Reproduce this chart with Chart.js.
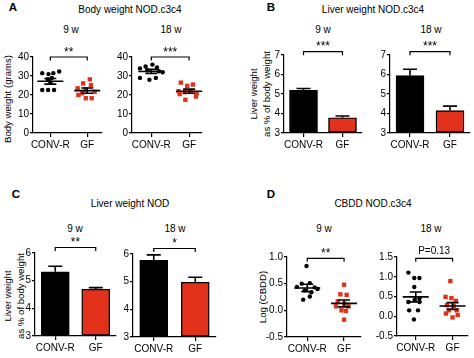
<!DOCTYPE html>
<html>
<head>
<meta charset="utf-8">
<script src="https://cdn.jsdelivr.net/npm/chart.js@4.4.0/dist/chart.umd.min.js"></script>
<style>
  body { margin: 0; width: 474px; height: 358px; background: #fff; position: relative; overflow: hidden;
         font-family: "Liberation Sans", Arial, sans-serif; color: #000; }
  .t { position: absolute; transform: translate(-50%, -50%); font-size: 10px; white-space: nowrap; line-height: 1.2; }
  .L { font-weight: bold; font-size: 11.5px; }
  .r { transform: translate(-50%, -50%) rotate(-90deg); text-align: center; font-size: 9.6px; line-height: 13px; }
  canvas { position: absolute; }
</style>
</head>
<body>
<div class="t L" style="left:13px;top:8px">A</div>
<div class="t" style="left:130px;top:10px">Body weight NOD.c3c4</div>
<div class="t" style="left:71px;top:30px">9 w</div>
<div class="t" style="left:171px;top:30px">18 w</div>
<div class="t r" style="left:7px;top:99px">Body weight (grams)</div>

<div class="t L" style="left:271px;top:8px">B</div>
<div class="t" style="left:373px;top:10px">Liver weight NOD.c3c4</div>
<div class="t" style="left:323px;top:30px">9 w</div>
<div class="t" style="left:431px;top:30px">18 w</div>
<div class="t r" style="left:260px;top:94px">Liver weight<br>as % of body weight</div>

<div class="t L" style="left:16px;top:195px">C</div>
<div class="t" style="left:130px;top:204px">Liver weight NOD</div>
<div class="t" style="left:75px;top:229px">9 w</div>
<div class="t" style="left:175px;top:229px">18 w</div>
<div class="t r" style="left:14px;top:296px">Liver weight<br>as % of body weight</div>

<div class="t L" style="left:271px;top:195px">D</div>
<div class="t" style="left:373px;top:204px">CBDD NOD.c3c4</div>
<div class="t" style="left:324px;top:229px">9 w</div>
<div class="t" style="left:431px;top:229px">18 w</div>
<div class="t r" style="left:262px;top:297px">Log (CBDD)</div>

<script>
// groups on every x axis
const groups = ['CONV-R', 'GF'];

// A: body weight (grams) (x = jitter in group units)
const bwConv9X = [-0.22, -0.05, 0.08, 0.24, 0.04, -0.07, 0.00, -0.22, -0.06, 0.10];
const bwConv9 =  [31.5, 31.0, 31.5, 32.4, 29.0, 28.3, 26.6, 22.6, 22.6, 22.6];
const bwGf9X = [1.07, 0.89, 1.10, 0.74, 0.96, 1.20, 0.76, 0.86, 0.96, 1.12];
const bwGf9 =  [28.2, 26.1, 25.2, 23.5, 23.0, 21.7, 20.0, 20.9, 18.3, 18.3];
const bwConv18X = [-0.30, -0.15, 0.03, 0.15, -0.10, 0.20, 0.30, -0.30, -0.05, 0.12];
const bwConv18 =  [34.0, 35.0, 36.0, 34.5, 33.0, 32.5, 32.0, 29.0, 28.0, 29.0];
const bwGf18X = [0.78, 0.95, 1.10, 0.72, 0.88, 1.05, 1.20, 0.75, 1.18, 0.90];
const bwGf18 =  [26.5, 24.8, 25.5, 22.0, 21.5, 22.0, 21.0, 20.5, 19.2, 17.5];
const bwMean9 = [27.2, 22.3], bwSem9 = [1.5, 1.4];
const bwMean18 = [32.4, 22.0], bwSem18 = [1.1, 1.1];

// B: liver weight NOD.c3c4 (% of body weight)
const lwc3Mean9 = [5.19, 3.78], lwc3Sem9 = [0.09, 0.09];
const lwc3Mean18 = [5.95, 4.15], lwc3Sem18 = [0.32, 0.23];

// C: liver weight NOD (% of body weight)
const lwMean9 = [5.32, 4.69], lwSem9 = [0.20, 0.06];
const lwMean18 = [5.77, 4.98], lwSem18 = [0.20, 0.18];

// D: log(CBDD)
const cbConv9X = [-0.02, -0.15, 0.07, -0.28, 0.20, -0.07, 0.11, -0.11, 0.07, 0.28];
const cbConv9 =  [0.83, 0.50, 0.51, 0.44, 0.43, 0.375, 0.34, 0.20, 0.26, 0.40];
const cbGf9X = [1.00, 0.90, 1.07, 0.83, 1.01, 0.78, 1.12, 0.93, 1.05, 1.00];
const cbGf9 =  [0.48, 0.30, 0.29, 0.17, 0.125, 0.075, 0.075, 0.00, -0.01, -0.175];
const cbConv18X = [-0.20, -0.04, 0.10, -0.04, 0.10, -0.20, -0.03, 0.10, -0.18, 0.06, -0.05];
const cbConv18 =  [1.105, 0.97, 0.97, 0.74, 0.45, 0.36, 0.41, 0.36, 0.15, 0.15, -0.08];
const cbGf18X = [0.94, 0.81, 0.97, 1.09, 0.85, 1.03, 0.90, 1.11, 0.82, 1.00, 1.14];
const cbGf18 =  [0.89, 0.49, 0.46, 0.39, 0.28, 0.26, 0.15, 0.15, 0.07, -0.03, 0.03];
const cbMean9 = [0.42, 0.13], cbSem9 = [0.07, 0.065];
const cbMean18 = [0.49, 0.26], cbSem18 = [0.125, 0.085];

// significance labels
const sigA = ['**', '***'], sigB = ['***', '***'], sigC = ['**', '*'], sigD = ['**', 'P=0.13'];

const FONT = '"Liberation Sans", Arial, sans-serif';
Chart.defaults.font.family = FONT;
Chart.defaults.color = '#000';
const RED = '#e3321c';
const YW = 28, XH = 20, PT = 24;

// draws mean/SEM marks and the significance bracket from the chart's scales
const prismMarks = {
  id: 'prismMarks',
  afterDatasetsDraw(chart, args, o) {
    const { ctx, chartArea } = chart;
    const xs = chart.scales.x, ys = chart.scales.y;
    ctx.save();
    ctx.strokeStyle = '#000';
    ctx.lineWidth = 1.6;
    o.mean.forEach((m, i) => {
      const cx = xs.getPixelForValue(i);
      const top = ys.getPixelForValue(m + o.sem[i]);
      ctx.beginPath();
      if (o.bars) {
        const y0 = ys.getPixelForValue(m);
        ctx.moveTo(cx, y0); ctx.lineTo(cx, top);
        ctx.moveTo(cx - 7, top); ctx.lineTo(cx + 7, top);
      } else {
        const y0 = ys.getPixelForValue(m), bot = ys.getPixelForValue(m - o.sem[i]);
        ctx.moveTo(cx - 13, y0); ctx.lineTo(cx + 13, y0);
        ctx.moveTo(cx, top); ctx.lineTo(cx, bot);
        ctx.moveTo(cx - 6, top); ctx.lineTo(cx + 6, top);
        ctx.moveTo(cx - 6, bot); ctx.lineTo(cx + 6, bot);
      }
      ctx.stroke();
    });
    // bracket
    const x1 = xs.getPixelForValue(0), x2 = xs.getPixelForValue(1);
    const by = chartArea.top + o.dy;
    ctx.lineWidth = 1.2;
    ctx.beginPath();
    ctx.moveTo(x1, by + 3.5); ctx.lineTo(x1, by); ctx.lineTo(x2, by); ctx.lineTo(x2, by + 3.5);
    ctx.stroke();
    const star = o.sig.indexOf('*') === 0;
    ctx.fillStyle = '#000';
    ctx.font = (star ? '12px ' : '10px ') + FONT;
    ctx.textAlign = 'center';
    ctx.textBaseline = 'alphabetic';
    ctx.fillText(o.sig, (x1 + x2) / 2, by - (star ? 1.5 : 4));
    ctx.restore();
  }
};

function axisY(min, max, step, dec) {
  return {
    min: min, max: max,
    ticks: { stepSize: step, padding: 1, font: { size: 10 }, color: '#000',
             callback: v => dec ? v.toFixed(dec) : v },
    grid: { drawOnChartArea: false, tickLength: 3, color: '#000', lineWidth: 1.2 },
    border: { color: '#000', width: 1.2 },
    afterFit: s => { s.width = YW; }
  };
}

function axisX(linear, min, max) {
  const a = {
    ticks: { font: { size: 10 }, color: '#000', padding: 2, maxRotation: 0, autoSkip: false },
    grid: { drawOnChartArea: false, tickLength: 4, color: '#000', lineWidth: 1.2, offset: false },
    border: { color: '#000', width: 1.2 },
    afterFit: s => { s.height = XH; }
  };
  if (linear) {
    a.type = 'linear'; a.min = min; a.max = max;
    a.afterBuildTicks = s => { s.ticks = groups.map((g, i) => ({ value: i })); };
    a.ticks.callback = v => groups[v];
  }
  return a;
}

function place(box) {
  const c = document.createElement('canvas');
  const left = Math.round(box.ax - YW), top = Math.round(box.top - PT);
  const w = Math.round(box.right - left + 2), h = Math.round(box.bottom + XH - top);
  c.width = w; c.height = h;
  c.style.left = left + 'px'; c.style.top = top + 'px';
  c.style.width = w + 'px'; c.style.height = h + 'px';
  document.body.appendChild(c);
  return c;
}

const common = { responsive: false, animation: false, devicePixelRatio: 1,
                 layout: { padding: { top: PT, right: 2, left: 0, bottom: 0 } } };

function scatterChart(box, conv, convX, gf, gfX, mean, sem, sig, dy, y) {
  new Chart(place(box), {
    type: 'scatter',
    data: { datasets: [
      { data: conv.map((v, i) => ({ x: convX[i], y: v })), pointStyle: 'circle', pointRadius: 2.2,
        backgroundColor: '#000', borderColor: '#000', borderWidth: 0 },
      { data: gf.map((v, i) => ({ x: gfX[i], y: v })), pointStyle: 'rect', pointRadius: 3.1,
        backgroundColor: RED, borderColor: RED, borderWidth: 0 }
    ] },
    options: Object.assign({}, common, {
      scales: { x: axisX(true, box.xmin, box.xmax), y: y },
      plugins: { legend: { display: false }, tooltip: { enabled: false },
                 prismMarks: { mean: mean, sem: sem, sig: sig, dy: dy, bars: false } }
    }),
    plugins: [prismMarks]
  });
}

function barChart(box, mean, sem, sig, dy, y, base) {
  new Chart(place(box), {
    type: 'bar',
    data: { labels: groups, datasets: [
      { data: mean, base: base, backgroundColor: ['#000', RED], borderColor: '#000',
        borderWidth: 1.4, borderSkipped: false, barThickness: 28 }
    ] },
    options: Object.assign({}, common, {
      scales: { x: axisX(false), y: y },
      plugins: { legend: { display: false }, tooltip: { enabled: false },
                 prismMarks: { mean: mean, sem: sem, sig: sig, dy: dy, bars: true } }
    }),
    plugins: [prismMarks]
  });
}

// A
scatterChart({ ax: 33.3, top: 56.7, bottom: 133.3, right: 104, xmin: -0.47, xmax: 1.4 },
  bwConv9, bwConv9X, bwGf9, bwGf9X, bwMean9, bwSem9, sigA[0], 0, axisY(0, 40, 10));
scatterChart({ ax: 131.7, top: 56.7, bottom: 133.3, right: 204, xmin: -0.51, xmax: 1.34 },
  bwConv18, bwConv18X, bwGf18, bwGf18X, bwMean18, bwSem18, sigA[1], 0, axisY(0, 40, 10));
// B
barChart({ ax: 283.7, top: 55, bottom: 132.7, right: 362 }, lwc3Mean9, lwc3Sem9, sigB[0], -3.3, axisY(3, 7, 1), 3);
barChart({ ax: 390.3, top: 55, bottom: 132.7, right: 470 }, lwc3Mean18, lwc3Sem18, sigB[1], -3.3, axisY(3, 7, 1), 3);
// C
barChart({ ax: 35, top: 253.3, bottom: 336, right: 116 }, lwMean9, lwSem9, sigC[0], -5.5, axisY(3, 6, 1), 3);
barChart({ ax: 133, top: 254, bottom: 336.7, right: 216 }, lwMean18, lwSem18, sigC[1], -5.5, axisY(3, 6, 1), 3);
// D
scatterChart({ ax: 286.7, top: 256.7, bottom: 336.7, right: 363, xmin: -0.55, xmax: 1.46 },
  cbConv9, cbConv9X, cbGf9, cbGf9X, cbMean9, cbSem9, sigD[0], 1.3, axisY(-0.5, 1.0, 0.5, 1));
scatterChart({ ax: 396.7, top: 256.7, bottom: 336, right: 470, xmin: -0.51, xmax: 1.42 },
  cbConv18, cbConv18X, cbGf18, cbGf18X, cbMean18, cbSem18, sigD[1], 1.3, axisY(-0.5, 1.5, 0.5, 1));
</script>
</body>
</html>
